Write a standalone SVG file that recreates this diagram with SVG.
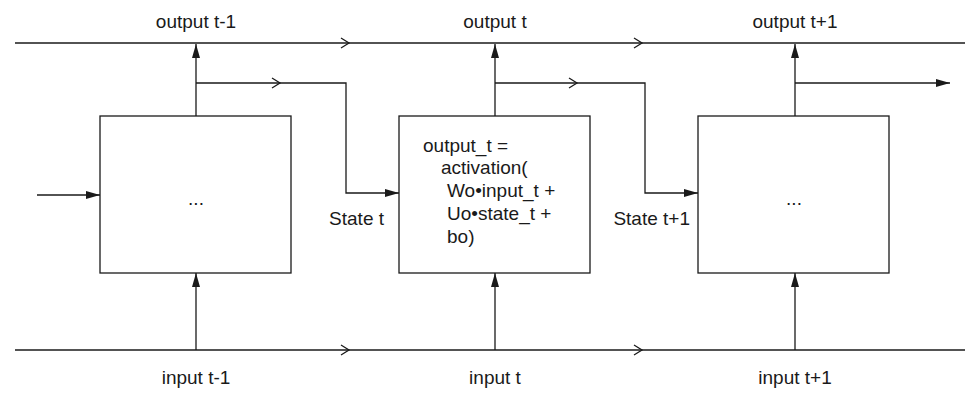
<svg xmlns="http://www.w3.org/2000/svg" width="980" height="401" viewBox="0 0 980 401">
<style>
text{font-family:"Liberation Sans",Arial,sans-serif;font-size:19px;fill:#1a1a1a}
.l{stroke:#1a1a1a;stroke-width:1.3;fill:none}
.b{stroke:#1a1a1a;stroke-width:1.3;fill:#fff}
.c{stroke:#1a1a1a;stroke-width:1.3;fill:none}
</style>
<defs>
<marker id="a" markerWidth="14" markerHeight="8" refX="14" refY="4" orient="auto" markerUnits="userSpaceOnUse"><path d="M0,0 L14,4 L0,8 Z" fill="#1a1a1a"/></marker>
</defs>
<rect width="980" height="401" fill="#fff"/>
<g id="connectors">
<line class="l" x1="15" y1="43" x2="965" y2="43"/>
<line class="l" x1="15" y1="350" x2="965" y2="350"/>
<path class="c" d="M341,38 L349,43 L341,48 M634,38 L642,43 L634,48 M341,345 L349,350 L341,355 M634,345 L642,350 L634,355 M272,78 L280,83 L272,88 M569,78 L577,83 L569,88"/>
<line class="l" x1="196" y1="116" x2="196" y2="44" marker-end="url(#a)"/>
<line class="l" x1="495" y1="116" x2="495" y2="44" marker-end="url(#a)"/>
<line class="l" x1="795" y1="116" x2="795" y2="44" marker-end="url(#a)"/>
<path class="l" d="M196,83 H346 V193 H399" marker-end="url(#a)"/>
<path class="l" d="M495,83 H645 V193 H698" marker-end="url(#a)"/>
<path class="l" d="M795,83 H950" marker-end="url(#a)"/>
<line class="l" x1="37" y1="195" x2="100" y2="195" marker-end="url(#a)"/>
<line class="l" x1="196" y1="350" x2="196" y2="273" marker-end="url(#a)"/>
<line class="l" x1="495" y1="350" x2="495" y2="273" marker-end="url(#a)"/>
<line class="l" x1="795" y1="350" x2="795" y2="273" marker-end="url(#a)"/>
</g>
<g id="box1"><rect class="b" x="100" y="116" width="191" height="157"/><text x="196" y="205" text-anchor="middle">...</text></g>
<g id="box2"><rect class="b" x="399" y="116" width="191" height="157"/>
<text x="423" y="152">output_t =</text>
<text x="441" y="174">activation(</text>
<text x="447" y="197">Wo•input_t +</text>
<text x="447" y="220">Uo•state_t +</text>
<text x="447" y="243">bo)</text></g>
<g id="box3"><rect class="b" x="698" y="116" width="191" height="157"/><text x="794" y="205" text-anchor="middle">...</text></g>
<g id="labels">
<text x="196" y="28" text-anchor="middle">output t-1</text>
<text x="495" y="28" text-anchor="middle">output t</text>
<text x="795" y="28" text-anchor="middle">output t+1</text>
<text x="196" y="384" text-anchor="middle">input t-1</text>
<text x="495" y="384" text-anchor="middle">input t</text>
<text x="795" y="384" text-anchor="middle">input t+1</text>
<text x="384" y="225" text-anchor="end">State t</text>
<text x="690" y="225" text-anchor="end">State t+1</text>
</g>
</svg>
